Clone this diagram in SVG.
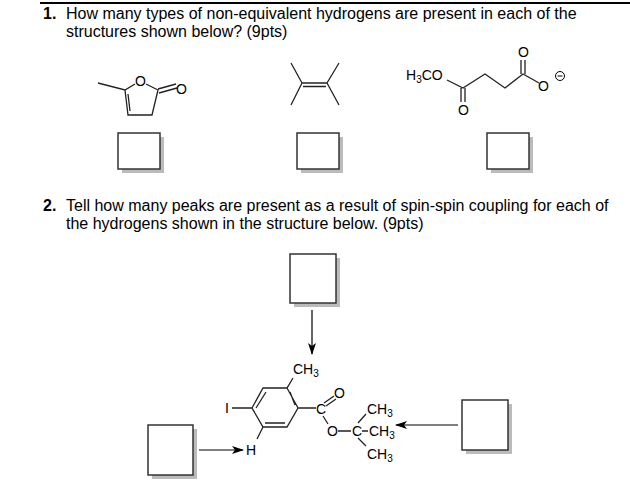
<svg xmlns="http://www.w3.org/2000/svg" width="630" height="486" viewBox="0 0 630 486">
<style>
text{font-family:"Liberation Sans",Arial,sans-serif;fill:#000}
.q{font-size:16px}
.a{font-size:14px}
.s{font-size:10px}
.b{fill:none;stroke:#222;stroke-width:1.3}
.box{fill:#fff;stroke:#333;stroke-width:1.5}
.sh{fill:#bbb}
.c{stroke:#000;stroke-width:1.2;fill:none}
</style>
<defs><marker id="ah" markerWidth="12" markerHeight="8" refX="11" refY="4" orient="auto" markerUnits="userSpaceOnUse"><path d="M0,0 L12,4 L0,8 L3,4Z" fill="#000"/></marker></defs>
<rect width="630" height="486" fill="#fff"/>
<line x1="40" y1="3" x2="630" y2="3" stroke="#000" stroke-width="2"/>
<text class="q" x="43" y="19" font-weight="bold">1.</text>
<text class="q" x="66" y="19">How many types of non-equivalent hydrogens are present in each of the</text>
<text class="q" x="66" y="37">structures shown below?  (9pts)</text>
<text class="q" x="43" y="211" font-weight="bold">2.</text>
<text class="q" x="66" y="211">Tell how many peaks are present as a result of spin-spin coupling for each of</text>
<text class="q" x="66" y="229">the hydrogens shown in the structure below.  (9pts)</text>

<g id="mol1">
<path class="b" d="M98,83 L125,90 L135,84 M146,84 L158,90 L152,115 L128,115 L125,90 M130,111 L128,94"/>
<path class="b" d="M158,89 L176,84 M159,93 L177,88"/>
<text class="a" x="135" y="86">O</text><text class="a" x="176" y="94">O</text>
</g>
<g id="mol2">
<path class="b" d="M302,83 L327,83 M303,86.5 L326,86.5 M302,83 L291,63 M302,83 L291,105 M327,83 L339,63 M327,83 L339,105"/>
</g>
<g id="mol3">
<text class="a" x="406" y="80">H<tspan class="s" dy="3">3</tspan><tspan dy="-3">CO</tspan></text>
<path class="b" d="M447,80 L463,88 L485,74 L505,88 L523,74 L539,83 M461,88 L461,102 M465,88 L465,102 M521,74 L521,60 M525,74 L525,60"/>
<text class="a" x="458" y="115">O</text>
<text class="a" x="518" y="57">O</text>
<text class="a" x="538" y="91">O</text>
<circle cx="560" cy="76" r="4.5" fill="none" stroke="#000" stroke-width="1"/>
<line x1="557.5" y1="76" x2="562.5" y2="76" stroke="#000" stroke-width="1"/>
</g>
<g id="box1"><rect class="sh" x="122" y="137" width="42" height="36"/><rect class="box" x="118" y="133" width="42" height="36"/></g>
<g id="box2"><rect class="sh" x="301" y="137" width="42" height="36"/><rect class="box" x="297" y="133" width="42" height="36"/></g>
<g id="box3"><rect class="sh" x="491" y="137" width="42" height="36"/><rect class="box" x="487" y="133" width="42" height="36"/></g>
<g id="box4"><rect class="sh" x="294" y="258" width="46" height="49"/><rect class="box" x="290" y="254" width="46" height="49"/></g>
<g id="box5"><rect class="sh" x="152" y="429" width="45" height="50"/><rect class="box" x="148" y="425" width="45" height="50"/></g>
<g id="box6"><rect class="sh" x="466" y="404" width="46" height="50"/><rect class="box" x="462" y="400" width="46" height="50"/></g>

<g id="mol4">
<text class="a" x="293" y="374">CH<tspan class="s" dy="3">3</tspan></text>
<path class="b" d="M293,378 L287,388 L263,388 L252,408 L263,427 L287,427 L298,408 L287,388 M266,392 L256,408 M265,423 L285,423 M290,392 L295,405 M232,408 L252,408 M263,427 L257,439 M298,408 L316,408"/>
<text class="a" x="225" y="413">I</text>
<text class="a" x="246" y="455">H</text>
<text class="a" x="316" y="414">C</text>
<path class="b" d="M324,403 L334,396 M326,406 L336,399"/>
<text class="a" x="334" y="398">O</text>
<path class="b" d="M323,416 L328,424"/>
<text class="a" x="327" y="436">O</text>
<path class="b" d="M338,431 L351,431 M362,431 L368,431"/>
<text class="a" x="352" y="436">C</text>
<path class="b" d="M358,423 L366,414 M358,438 L366,446"/>
<text class="a" x="367" y="414">CH<tspan class="s" dy="3">3</tspan></text>
<text class="a" x="369" y="436">CH<tspan class="s" dy="3">3</tspan></text>
<text class="a" x="367" y="459">CH<tspan class="s" dy="3">3</tspan></text>
</g>
<g id="connectors">
<line class="c" x1="312" y1="310" x2="312" y2="354" marker-end="url(#ah)"/>
<line class="c" x1="199" y1="450" x2="243" y2="450" marker-end="url(#ah)"/>
<line class="c" x1="458" y1="425" x2="396" y2="425" marker-end="url(#ah)"/>
</g>
</svg>
